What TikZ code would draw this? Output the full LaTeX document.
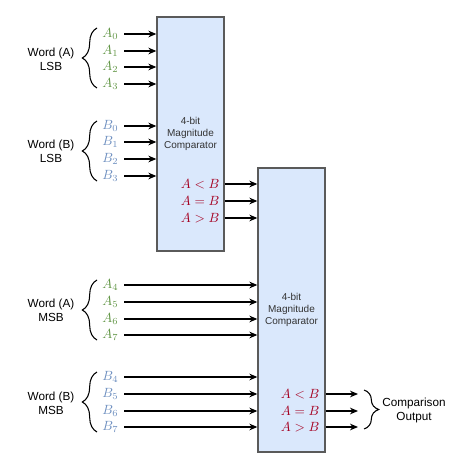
\documentclass[tikz,border=0pt]{standalone}
\usepackage{fontspec}
\setsansfont{Liberation Sans}
\usetikzlibrary{arrows.meta,decorations.pathreplacing}
\definecolor{wordA}{RGB}{98,150,70}
\definecolor{wordB}{RGB}{108,142,191}
\definecolor{cmpout}{RGB}{165,0,33}
\definecolor{boxfill}{RGB}{218,232,252}
\definecolor{boxline}{RGB}{90,90,90}
\begin{document}
\begin{tikzpicture}[x=0.75pt, y=-0.75pt, >={Stealth[length=6pt,width=5pt]},
    comparator/.style={draw=boxline, line width=1pt, fill=boxfill, minimum width=50.25pt,
      align=center, text=black!80, font=\sffamily\fontsize{7.5}{9}\selectfont},
    bitA/.style={anchor=east, inner xsep=4pt, inner ysep=1pt, text=wordA},
    bitB/.style={anchor=east, inner xsep=4pt, inner ysep=1pt, text=wordB},
    cmpres/.style={anchor=east, inner sep=1pt, text=cmpout},
    wire/.style={->, line width=0.8pt},
    wordbrace/.style={decorate, decoration={brace, amplitude=11pt}, line width=0.8pt},
    wordlabel/.style={align=center, font=\sffamily\fontsize{8.8}{10.5}\selectfont}]
  \useasboundingbox (0,0) rectangle (474,470);
  \node [comparator, minimum height=175.5pt] (low) at (190.5,134) {4-bit\\Magnitude\\Comparator};
  \node [comparator, minimum height=213pt] (high) at (291.5,310) {4-bit\\Magnitude\\Comparator};
  \coordinate (outR) at (358,0);
  % LSB inputs
  \foreach \i/\y in {0/34, 1/51, 2/67, 3/84} {
    \node [bitA] (a\i) at (124,\y) {$A_\i$};
    \draw [wire] (a\i.east) -- (a\i.east -| low.west);
  }
  \foreach \i/\y in {0/126, 1/142, 2/159, 3/176} {
    \node [bitB] (b\i) at (124,\y) {$B_\i$};
    \draw [wire] (b\i.east) -- (b\i.east -| low.west);
  }
  % MSB inputs
  \foreach \i/\y in {4/285, 5/302, 6/319, 7/335} {
    \node [bitA] (a\i) at (124,\y) {$A_\i$};
    \draw [wire] (a\i.east) -- (a\i.east -| high.west);
  }
  \foreach \i/\y in {4/377, 5/394, 6/411, 7/427} {
    \node [bitB] (b\i) at (124,\y) {$B_\i$};
    \draw [wire] (b\i.east) -- (b\i.east -| high.west);
  }
  % comparator outputs
  \foreach \r/\t/\y in {lt/</184, eq/=/201, gt/>/218} {
    \node [cmpres] (\r1) at (221,\y) {$A\t B$};
    \draw [wire] (low.east |- \r1) -- (high.west |- \r1);
  }
  \foreach \r/\t/\y in {lt/</394, eq/=/411, gt/>/427} {
    \node [cmpres] (\r2) at (321,\y) {$A\t B$};
    \draw [wire] (high.east |- \r2) -- (outR |- \r2);
  }
  % braces
  \draw [wordbrace] (97,88) -- (97,28);
  \node [wordlabel] (wal) at (51,59) {Word (A)\\LSB};
  \draw [wordbrace] (97,181) -- (97,121);
  \node [wordlabel] (wbl) at (51,151) {Word (B)\\LSB};
  \draw [wordbrace] (97,340) -- (97,280);
  \node [wordlabel] (wam) at (51,310) {Word (A)\\MSB};
  \draw [wordbrace] (97,432) -- (97,372);
  \node [wordlabel] (wbm) at (51,403) {Word (B)\\MSB};
  \draw [wordbrace] (364,390) -- (364,429);
  \node [wordlabel] (cmp) at (414,410) {Comparison\\Output};
\end{tikzpicture}
\end{document}
